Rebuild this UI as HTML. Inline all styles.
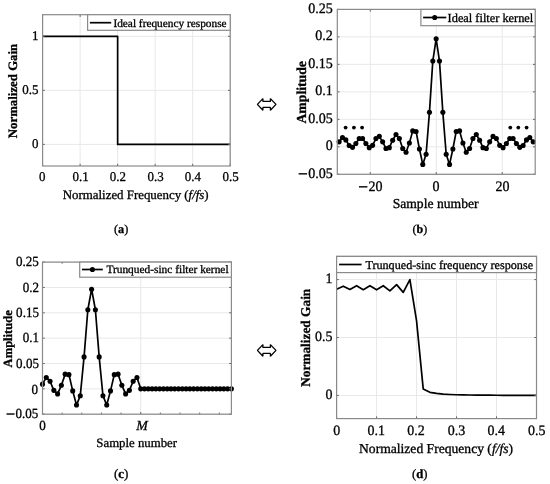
<!DOCTYPE html>
<html><head><meta charset="utf-8"><title>Filter kernel figure</title>
<style>
html,body{margin:0;padding:0;background:#fff;overflow:hidden;}
svg{display:block;filter:blur(0.3px);}
text{font-family:'Liberation Serif', 'Times New Roman', serif;fill:#000;text-rendering:geometricPrecision;}
</style></head>
<body>
<svg width="550" height="484" viewBox="0 0 550 484">
<rect width="550" height="484" fill="#fff"/>
<line x1="42.60" y1="14.70" x2="42.60" y2="166.00" stroke="#e8e8e8" stroke-width="1"/>
<line x1="80.12" y1="14.70" x2="80.12" y2="166.00" stroke="#e8e8e8" stroke-width="1"/>
<line x1="117.64" y1="14.70" x2="117.64" y2="166.00" stroke="#e8e8e8" stroke-width="1"/>
<line x1="155.16" y1="14.70" x2="155.16" y2="166.00" stroke="#e8e8e8" stroke-width="1"/>
<line x1="192.68" y1="14.70" x2="192.68" y2="166.00" stroke="#e8e8e8" stroke-width="1"/>
<line x1="230.20" y1="14.70" x2="230.20" y2="166.00" stroke="#e8e8e8" stroke-width="1"/>
<line x1="42.60" y1="144.39" x2="230.20" y2="144.39" stroke="#e8e8e8" stroke-width="1"/>
<line x1="42.60" y1="90.35" x2="230.20" y2="90.35" stroke="#e8e8e8" stroke-width="1"/>
<line x1="42.60" y1="36.31" x2="230.20" y2="36.31" stroke="#e8e8e8" stroke-width="1"/>
<polyline points="42.60,36.31 117.64,36.31 117.64,144.39 230.20,144.39" fill="none" stroke="#000" stroke-width="1.7" stroke-linejoin="round"/>
<line x1="42.60" y1="166.00" x2="42.60" y2="163.80" stroke="#606060" stroke-width="1"/>
<line x1="42.60" y1="14.70" x2="42.60" y2="16.90" stroke="#606060" stroke-width="1"/>
<line x1="80.12" y1="166.00" x2="80.12" y2="163.80" stroke="#606060" stroke-width="1"/>
<line x1="80.12" y1="14.70" x2="80.12" y2="16.90" stroke="#606060" stroke-width="1"/>
<line x1="117.64" y1="166.00" x2="117.64" y2="163.80" stroke="#606060" stroke-width="1"/>
<line x1="117.64" y1="14.70" x2="117.64" y2="16.90" stroke="#606060" stroke-width="1"/>
<line x1="155.16" y1="166.00" x2="155.16" y2="163.80" stroke="#606060" stroke-width="1"/>
<line x1="155.16" y1="14.70" x2="155.16" y2="16.90" stroke="#606060" stroke-width="1"/>
<line x1="192.68" y1="166.00" x2="192.68" y2="163.80" stroke="#606060" stroke-width="1"/>
<line x1="192.68" y1="14.70" x2="192.68" y2="16.90" stroke="#606060" stroke-width="1"/>
<line x1="230.20" y1="166.00" x2="230.20" y2="163.80" stroke="#606060" stroke-width="1"/>
<line x1="230.20" y1="14.70" x2="230.20" y2="16.90" stroke="#606060" stroke-width="1"/>
<line x1="42.60" y1="144.39" x2="44.80" y2="144.39" stroke="#606060" stroke-width="1"/>
<line x1="230.20" y1="144.39" x2="228.00" y2="144.39" stroke="#606060" stroke-width="1"/>
<line x1="42.60" y1="90.35" x2="44.80" y2="90.35" stroke="#606060" stroke-width="1"/>
<line x1="230.20" y1="90.35" x2="228.00" y2="90.35" stroke="#606060" stroke-width="1"/>
<line x1="42.60" y1="36.31" x2="44.80" y2="36.31" stroke="#606060" stroke-width="1"/>
<line x1="230.20" y1="36.31" x2="228.00" y2="36.31" stroke="#606060" stroke-width="1"/>
<rect x="42.60" y="14.70" width="187.60" height="151.30" fill="none" stroke="#8a8a8a" stroke-width="1.2"/>
<rect x="87.60" y="14.70" width="142.60" height="15.60" fill="#fff" stroke="#8a8a8a" stroke-width="1.2"/>
<line x1="89.90" y1="22.70" x2="111.20" y2="22.70" stroke="#000" stroke-width="1.7"/>
<text id="a_leg" transform="translate(113.40 26.50)" font-size="11.337" text-anchor="start" font-weight="normal" stroke="#000" stroke-width="0.3">Ideal frequency response</text>
<text id="a_xt0" transform="translate(42.30 181.30) scale(0.9670 1)" font-size="13.400" text-anchor="middle" font-weight="normal" stroke="#000" stroke-width="0.3">0</text>
<text id="a_xt1" transform="translate(80.56 180.80) scale(0.9670 1)" font-size="13.400" text-anchor="middle" font-weight="normal" stroke="#000" stroke-width="0.3">0.1</text>
<text id="a_xt2" transform="translate(117.82 180.80) scale(0.9670 1)" font-size="13.400" text-anchor="middle" font-weight="normal" stroke="#000" stroke-width="0.3">0.2</text>
<text id="a_xt3" transform="translate(155.58 180.80) scale(0.9670 1)" font-size="13.400" text-anchor="middle" font-weight="normal" stroke="#000" stroke-width="0.3">0.3</text>
<text id="a_xt4" transform="translate(192.84 181.30) scale(0.9670 1)" font-size="13.400" text-anchor="middle" font-weight="normal" stroke="#000" stroke-width="0.3">0.4</text>
<text id="a_xt5" transform="translate(230.60 180.80) scale(0.9670 1)" font-size="13.400" text-anchor="middle" font-weight="normal" stroke="#000" stroke-width="0.3">0.5</text>
<text id="a_yt0" transform="translate(38.40 148.46) scale(0.9670 1)" font-size="13.400" text-anchor="end" font-weight="normal" stroke="#000" stroke-width="0.3">0</text>
<text id="a_yt1" transform="translate(38.40 93.95) scale(0.9670 1)" font-size="13.400" text-anchor="end" font-weight="normal" stroke="#000" stroke-width="0.3">0.5</text>
<text id="a_yt2" transform="translate(38.40 40.44) scale(0.9670 1)" font-size="13.400" text-anchor="end" font-weight="normal" stroke="#000" stroke-width="0.3">1</text>
<text id="a_ylab" transform="translate(17.00 91.00) rotate(-90)" font-size="12.841" text-anchor="middle" font-weight="bold" stroke="#000" stroke-width="0.3">Normalized Gain</text>
<text id="a_xlab" transform="translate(135.70 198.60)" font-size="12.896" text-anchor="middle" font-weight="normal" stroke="#000" stroke-width="0.3">Normalized Frequency (<tspan font-style="italic">f/fs</tspan>)</text>
<text id="a_cap" transform="translate(121.15 232.90)" font-size="12.227" text-anchor="middle" font-weight="normal" stroke="#000" stroke-width="0.3">(<tspan font-weight="bold">a</tspan>)</text>
<line x1="370.28" y1="9.40" x2="370.28" y2="174.30" stroke="#e8e8e8" stroke-width="1"/>
<line x1="436.25" y1="9.40" x2="436.25" y2="174.30" stroke="#e8e8e8" stroke-width="1"/>
<line x1="502.22" y1="9.40" x2="502.22" y2="174.30" stroke="#e8e8e8" stroke-width="1"/>
<line x1="337.30" y1="174.30" x2="535.20" y2="174.30" stroke="#e8e8e8" stroke-width="1"/>
<line x1="337.30" y1="146.82" x2="535.20" y2="146.82" stroke="#e8e8e8" stroke-width="1"/>
<line x1="337.30" y1="119.33" x2="535.20" y2="119.33" stroke="#e8e8e8" stroke-width="1"/>
<line x1="337.30" y1="91.85" x2="535.20" y2="91.85" stroke="#e8e8e8" stroke-width="1"/>
<line x1="337.30" y1="64.37" x2="535.20" y2="64.37" stroke="#e8e8e8" stroke-width="1"/>
<line x1="337.30" y1="36.88" x2="535.20" y2="36.88" stroke="#e8e8e8" stroke-width="1"/>
<line x1="337.30" y1="9.40" x2="535.20" y2="9.40" stroke="#e8e8e8" stroke-width="1"/>
<polyline points="339.14,141.87 342.49,137.47 345.83,139.89 349.18,145.50 352.52,147.37 355.87,143.52 359.21,138.57 362.56,138.57 365.90,143.52 369.25,147.64 372.59,145.33 375.94,138.57 379.28,136.37 382.63,141.87 385.97,148.47 389.32,147.64 392.66,140.22 396.01,134.45 399.35,138.57 402.70,148.47 406.04,152.31 409.39,142.97 412.73,130.88 416.08,131.43 419.42,149.02 422.77,164.41 426.11,154.24 429.46,112.19 432.80,61.07 436.15,38.81 439.50,61.07 442.84,112.19 446.19,154.24 449.53,164.41 452.88,149.02 456.22,131.43 459.56,130.88 462.91,142.97 466.25,152.31 469.60,148.47 472.94,138.57 476.29,134.45 479.63,140.22 482.98,147.64 486.32,148.47 489.67,141.87 493.01,136.37 496.36,138.57 499.70,145.33 503.05,147.64 506.39,143.52 509.74,138.57 513.09,138.57 516.43,143.52 519.77,147.37 523.12,145.50 526.47,139.89 529.81,137.47 533.15,141.87" fill="none" stroke="#000" stroke-width="1.7" stroke-linejoin="round"/>
<circle cx="339.14" cy="141.87" r="2.55"/>
<circle cx="342.49" cy="137.47" r="2.55"/>
<circle cx="345.83" cy="139.89" r="2.55"/>
<circle cx="349.18" cy="145.50" r="2.55"/>
<circle cx="352.52" cy="147.37" r="2.55"/>
<circle cx="355.87" cy="143.52" r="2.55"/>
<circle cx="359.21" cy="138.57" r="2.55"/>
<circle cx="362.56" cy="138.57" r="2.55"/>
<circle cx="365.90" cy="143.52" r="2.55"/>
<circle cx="369.25" cy="147.64" r="2.55"/>
<circle cx="372.59" cy="145.33" r="2.55"/>
<circle cx="375.94" cy="138.57" r="2.55"/>
<circle cx="379.28" cy="136.37" r="2.55"/>
<circle cx="382.63" cy="141.87" r="2.55"/>
<circle cx="385.97" cy="148.47" r="2.55"/>
<circle cx="389.32" cy="147.64" r="2.55"/>
<circle cx="392.66" cy="140.22" r="2.55"/>
<circle cx="396.01" cy="134.45" r="2.55"/>
<circle cx="399.35" cy="138.57" r="2.55"/>
<circle cx="402.70" cy="148.47" r="2.55"/>
<circle cx="406.04" cy="152.31" r="2.55"/>
<circle cx="409.39" cy="142.97" r="2.55"/>
<circle cx="412.73" cy="130.88" r="2.55"/>
<circle cx="416.08" cy="131.43" r="2.55"/>
<circle cx="419.42" cy="149.02" r="2.55"/>
<circle cx="422.77" cy="164.41" r="2.55"/>
<circle cx="426.11" cy="154.24" r="2.55"/>
<circle cx="429.46" cy="112.19" r="2.55"/>
<circle cx="432.80" cy="61.07" r="2.55"/>
<circle cx="436.15" cy="38.81" r="2.55"/>
<circle cx="439.50" cy="61.07" r="2.55"/>
<circle cx="442.84" cy="112.19" r="2.55"/>
<circle cx="446.19" cy="154.24" r="2.55"/>
<circle cx="449.53" cy="164.41" r="2.55"/>
<circle cx="452.88" cy="149.02" r="2.55"/>
<circle cx="456.22" cy="131.43" r="2.55"/>
<circle cx="459.56" cy="130.88" r="2.55"/>
<circle cx="462.91" cy="142.97" r="2.55"/>
<circle cx="466.25" cy="152.31" r="2.55"/>
<circle cx="469.60" cy="148.47" r="2.55"/>
<circle cx="472.94" cy="138.57" r="2.55"/>
<circle cx="476.29" cy="134.45" r="2.55"/>
<circle cx="479.63" cy="140.22" r="2.55"/>
<circle cx="482.98" cy="147.64" r="2.55"/>
<circle cx="486.32" cy="148.47" r="2.55"/>
<circle cx="489.67" cy="141.87" r="2.55"/>
<circle cx="493.01" cy="136.37" r="2.55"/>
<circle cx="496.36" cy="138.57" r="2.55"/>
<circle cx="499.70" cy="145.33" r="2.55"/>
<circle cx="503.05" cy="147.64" r="2.55"/>
<circle cx="506.39" cy="143.52" r="2.55"/>
<circle cx="509.74" cy="138.57" r="2.55"/>
<circle cx="513.09" cy="138.57" r="2.55"/>
<circle cx="516.43" cy="143.52" r="2.55"/>
<circle cx="519.77" cy="147.37" r="2.55"/>
<circle cx="523.12" cy="145.50" r="2.55"/>
<circle cx="526.47" cy="139.89" r="2.55"/>
<circle cx="529.81" cy="137.47" r="2.55"/>
<circle cx="533.15" cy="141.87" r="2.55"/>
<circle cx="345.6" cy="127.6" r="1.9"/>
<circle cx="353.9" cy="127.6" r="1.9"/>
<circle cx="362.1" cy="127.6" r="1.9"/>
<circle cx="510.3" cy="127.6" r="1.9"/>
<circle cx="518.3" cy="127.6" r="1.9"/>
<circle cx="526.6" cy="127.6" r="1.9"/>
<line x1="370.28" y1="174.30" x2="370.28" y2="172.10" stroke="#606060" stroke-width="1"/>
<line x1="370.28" y1="9.40" x2="370.28" y2="11.60" stroke="#606060" stroke-width="1"/>
<line x1="436.25" y1="174.30" x2="436.25" y2="172.10" stroke="#606060" stroke-width="1"/>
<line x1="436.25" y1="9.40" x2="436.25" y2="11.60" stroke="#606060" stroke-width="1"/>
<line x1="502.22" y1="174.30" x2="502.22" y2="172.10" stroke="#606060" stroke-width="1"/>
<line x1="502.22" y1="9.40" x2="502.22" y2="11.60" stroke="#606060" stroke-width="1"/>
<line x1="337.30" y1="174.30" x2="339.50" y2="174.30" stroke="#606060" stroke-width="1"/>
<line x1="535.20" y1="174.30" x2="533.00" y2="174.30" stroke="#606060" stroke-width="1"/>
<line x1="337.30" y1="146.82" x2="339.50" y2="146.82" stroke="#606060" stroke-width="1"/>
<line x1="535.20" y1="146.82" x2="533.00" y2="146.82" stroke="#606060" stroke-width="1"/>
<line x1="337.30" y1="119.33" x2="339.50" y2="119.33" stroke="#606060" stroke-width="1"/>
<line x1="535.20" y1="119.33" x2="533.00" y2="119.33" stroke="#606060" stroke-width="1"/>
<line x1="337.30" y1="91.85" x2="339.50" y2="91.85" stroke="#606060" stroke-width="1"/>
<line x1="535.20" y1="91.85" x2="533.00" y2="91.85" stroke="#606060" stroke-width="1"/>
<line x1="337.30" y1="64.37" x2="339.50" y2="64.37" stroke="#606060" stroke-width="1"/>
<line x1="535.20" y1="64.37" x2="533.00" y2="64.37" stroke="#606060" stroke-width="1"/>
<line x1="337.30" y1="36.88" x2="339.50" y2="36.88" stroke="#606060" stroke-width="1"/>
<line x1="535.20" y1="36.88" x2="533.00" y2="36.88" stroke="#606060" stroke-width="1"/>
<line x1="337.30" y1="9.40" x2="339.50" y2="9.40" stroke="#606060" stroke-width="1"/>
<line x1="535.20" y1="9.40" x2="533.00" y2="9.40" stroke="#606060" stroke-width="1"/>
<rect x="337.30" y="9.40" width="197.90" height="164.90" fill="none" stroke="#8a8a8a" stroke-width="1.2"/>
<rect x="420.90" y="9.40" width="114.30" height="16.30" fill="#fff" stroke="#8a8a8a" stroke-width="1.2"/>
<line x1="423.10" y1="17.50" x2="446.30" y2="17.50" stroke="#000" stroke-width="1.7"/>
<circle cx="434.70" cy="17.50" r="2.55"/>
<text id="b_leg" transform="translate(447.60 21.90)" font-size="12.352" text-anchor="start" font-weight="normal" stroke="#000" stroke-width="0.3">Ideal filter kernel</text>
<text id="b_xt0" transform="translate(370.15 191.00) scale(0.9670 1)" font-size="14.500" text-anchor="middle" font-weight="normal" stroke="#000" stroke-width="0.3"><tspan font-family="'DejaVu Sans', sans-serif" font-size="0.92em">−</tspan>20</text>
<text id="b_xt1" transform="translate(436.05 191.00) scale(0.9670 1)" font-size="14.500" text-anchor="middle" font-weight="normal" stroke="#000" stroke-width="0.3">0</text>
<text id="b_xt2" transform="translate(502.40 191.00) scale(0.9670 1)" font-size="14.500" text-anchor="middle" font-weight="normal" stroke="#000" stroke-width="0.3">20</text>
<text id="b_yt0" transform="translate(332.80 177.75) scale(0.9670 1)" font-size="14.500" text-anchor="end" font-weight="normal" stroke="#000" stroke-width="0.3"><tspan font-family="'DejaVu Sans', sans-serif" font-size="0.92em">−</tspan>0.05</text>
<text id="b_yt1" transform="translate(332.80 149.95) scale(0.9670 1)" font-size="14.500" text-anchor="end" font-weight="normal" stroke="#000" stroke-width="0.3">0</text>
<text id="b_yt2" transform="translate(332.80 123.10) scale(0.9670 1)" font-size="14.500" text-anchor="end" font-weight="normal" stroke="#000" stroke-width="0.3">0.05</text>
<text id="b_yt3" transform="translate(332.80 95.30) scale(0.9670 1)" font-size="14.500" text-anchor="end" font-weight="normal" stroke="#000" stroke-width="0.3">0.1</text>
<text id="b_yt4" transform="translate(332.80 68.05) scale(0.9670 1)" font-size="14.500" text-anchor="end" font-weight="normal" stroke="#000" stroke-width="0.3">0.15</text>
<text id="b_yt5" transform="translate(332.80 39.75) scale(0.9670 1)" font-size="14.500" text-anchor="end" font-weight="normal" stroke="#000" stroke-width="0.3">0.2</text>
<text id="b_yt6" transform="translate(332.80 13.10) scale(0.9670 1)" font-size="14.500" text-anchor="end" font-weight="normal" stroke="#000" stroke-width="0.3">0.25</text>
<text id="b_ylab" transform="translate(305.60 92.30) rotate(-90)" font-size="13.730" text-anchor="middle" font-weight="bold" stroke="#000" stroke-width="0.3">Amplitude</text>
<text id="b_xlab" transform="translate(435.60 207.50)" font-size="13.632" text-anchor="middle" font-weight="normal" stroke="#000" stroke-width="0.3">Sample number</text>
<text id="b_cap" transform="translate(419.90 232.95)" font-size="12.028" text-anchor="middle" font-weight="normal" stroke="#000" stroke-width="0.3">(<tspan font-weight="bold">b</tspan>)</text>
<line x1="42.50" y1="262.10" x2="42.50" y2="414.20" stroke="#e8e8e8" stroke-width="1"/>
<line x1="140.73" y1="262.10" x2="140.73" y2="414.20" stroke="#e8e8e8" stroke-width="1"/>
<line x1="42.50" y1="414.20" x2="231.40" y2="414.20" stroke="#e8e8e8" stroke-width="1"/>
<line x1="42.50" y1="388.85" x2="231.40" y2="388.85" stroke="#e8e8e8" stroke-width="1"/>
<line x1="42.50" y1="363.50" x2="231.40" y2="363.50" stroke="#e8e8e8" stroke-width="1"/>
<line x1="42.50" y1="338.15" x2="231.40" y2="338.15" stroke="#e8e8e8" stroke-width="1"/>
<line x1="42.50" y1="312.80" x2="231.40" y2="312.80" stroke="#e8e8e8" stroke-width="1"/>
<line x1="42.50" y1="287.45" x2="231.40" y2="287.45" stroke="#e8e8e8" stroke-width="1"/>
<line x1="42.50" y1="262.10" x2="231.40" y2="262.10" stroke="#e8e8e8" stroke-width="1"/>
<polyline points="42.50,384.13 46.28,377.44 50.06,381.25 53.83,390.37 57.61,393.92 61.39,385.30 65.17,374.15 68.95,374.65 72.72,390.88 76.50,405.07 80.28,395.69 84.06,356.91 87.84,309.76 91.61,289.22 95.39,309.76 99.17,356.91 102.95,395.69 106.73,405.07 110.50,390.88 114.28,374.65 118.06,374.15 121.84,385.30 125.62,393.92 129.39,390.37 133.17,381.25 136.95,377.44 140.73,388.85 144.51,388.85 148.28,388.85 152.06,388.85 155.84,388.85 159.62,388.85 163.40,388.85 167.17,388.85 170.95,388.85 174.73,388.85 178.51,388.85 182.29,388.85 186.06,388.85 189.84,388.85 193.62,388.85 197.40,388.85 201.18,388.85 204.95,388.85 208.73,388.85 212.51,388.85 216.29,388.85 220.07,388.85 223.84,388.85 227.62,388.85 231.40,388.85" fill="none" stroke="#000" stroke-width="1.7" stroke-linejoin="round"/>
<circle cx="42.50" cy="384.13" r="2.55"/>
<circle cx="46.28" cy="377.44" r="2.55"/>
<circle cx="50.06" cy="381.25" r="2.55"/>
<circle cx="53.83" cy="390.37" r="2.55"/>
<circle cx="57.61" cy="393.92" r="2.55"/>
<circle cx="61.39" cy="385.30" r="2.55"/>
<circle cx="65.17" cy="374.15" r="2.55"/>
<circle cx="68.95" cy="374.65" r="2.55"/>
<circle cx="72.72" cy="390.88" r="2.55"/>
<circle cx="76.50" cy="405.07" r="2.55"/>
<circle cx="80.28" cy="395.69" r="2.55"/>
<circle cx="84.06" cy="356.91" r="2.55"/>
<circle cx="87.84" cy="309.76" r="2.55"/>
<circle cx="91.61" cy="289.22" r="2.55"/>
<circle cx="95.39" cy="309.76" r="2.55"/>
<circle cx="99.17" cy="356.91" r="2.55"/>
<circle cx="102.95" cy="395.69" r="2.55"/>
<circle cx="106.73" cy="405.07" r="2.55"/>
<circle cx="110.50" cy="390.88" r="2.55"/>
<circle cx="114.28" cy="374.65" r="2.55"/>
<circle cx="118.06" cy="374.15" r="2.55"/>
<circle cx="121.84" cy="385.30" r="2.55"/>
<circle cx="125.62" cy="393.92" r="2.55"/>
<circle cx="129.39" cy="390.37" r="2.55"/>
<circle cx="133.17" cy="381.25" r="2.55"/>
<circle cx="136.95" cy="377.44" r="2.55"/>
<circle cx="140.73" cy="388.85" r="2.55"/>
<circle cx="144.51" cy="388.85" r="2.55"/>
<circle cx="148.28" cy="388.85" r="2.55"/>
<circle cx="152.06" cy="388.85" r="2.55"/>
<circle cx="155.84" cy="388.85" r="2.55"/>
<circle cx="159.62" cy="388.85" r="2.55"/>
<circle cx="163.40" cy="388.85" r="2.55"/>
<circle cx="167.17" cy="388.85" r="2.55"/>
<circle cx="170.95" cy="388.85" r="2.55"/>
<circle cx="174.73" cy="388.85" r="2.55"/>
<circle cx="178.51" cy="388.85" r="2.55"/>
<circle cx="182.29" cy="388.85" r="2.55"/>
<circle cx="186.06" cy="388.85" r="2.55"/>
<circle cx="189.84" cy="388.85" r="2.55"/>
<circle cx="193.62" cy="388.85" r="2.55"/>
<circle cx="197.40" cy="388.85" r="2.55"/>
<circle cx="201.18" cy="388.85" r="2.55"/>
<circle cx="204.95" cy="388.85" r="2.55"/>
<circle cx="208.73" cy="388.85" r="2.55"/>
<circle cx="212.51" cy="388.85" r="2.55"/>
<circle cx="216.29" cy="388.85" r="2.55"/>
<circle cx="220.07" cy="388.85" r="2.55"/>
<circle cx="223.84" cy="388.85" r="2.55"/>
<circle cx="227.62" cy="388.85" r="2.55"/>
<circle cx="231.40" cy="388.85" r="2.55"/>
<line x1="42.50" y1="414.20" x2="42.50" y2="412.00" stroke="#606060" stroke-width="1"/>
<line x1="42.50" y1="262.10" x2="42.50" y2="264.30" stroke="#606060" stroke-width="1"/>
<line x1="140.73" y1="414.20" x2="140.73" y2="412.00" stroke="#606060" stroke-width="1"/>
<line x1="140.73" y1="262.10" x2="140.73" y2="264.30" stroke="#606060" stroke-width="1"/>
<line x1="62.15" y1="414.20" x2="62.15" y2="412.60" stroke="#606060" stroke-width="1"/>
<line x1="62.15" y1="262.10" x2="62.15" y2="263.70" stroke="#606060" stroke-width="1"/>
<line x1="81.79" y1="414.20" x2="81.79" y2="412.60" stroke="#606060" stroke-width="1"/>
<line x1="81.79" y1="262.10" x2="81.79" y2="263.70" stroke="#606060" stroke-width="1"/>
<line x1="101.44" y1="414.20" x2="101.44" y2="412.60" stroke="#606060" stroke-width="1"/>
<line x1="101.44" y1="262.10" x2="101.44" y2="263.70" stroke="#606060" stroke-width="1"/>
<line x1="121.08" y1="414.20" x2="121.08" y2="412.60" stroke="#606060" stroke-width="1"/>
<line x1="121.08" y1="262.10" x2="121.08" y2="263.70" stroke="#606060" stroke-width="1"/>
<line x1="160.37" y1="414.20" x2="160.37" y2="412.60" stroke="#606060" stroke-width="1"/>
<line x1="160.37" y1="262.10" x2="160.37" y2="263.70" stroke="#606060" stroke-width="1"/>
<line x1="180.02" y1="414.20" x2="180.02" y2="412.60" stroke="#606060" stroke-width="1"/>
<line x1="180.02" y1="262.10" x2="180.02" y2="263.70" stroke="#606060" stroke-width="1"/>
<line x1="199.66" y1="414.20" x2="199.66" y2="412.60" stroke="#606060" stroke-width="1"/>
<line x1="199.66" y1="262.10" x2="199.66" y2="263.70" stroke="#606060" stroke-width="1"/>
<line x1="219.31" y1="414.20" x2="219.31" y2="412.60" stroke="#606060" stroke-width="1"/>
<line x1="219.31" y1="262.10" x2="219.31" y2="263.70" stroke="#606060" stroke-width="1"/>
<line x1="42.50" y1="414.20" x2="44.70" y2="414.20" stroke="#606060" stroke-width="1"/>
<line x1="231.40" y1="414.20" x2="229.20" y2="414.20" stroke="#606060" stroke-width="1"/>
<line x1="42.50" y1="388.85" x2="44.70" y2="388.85" stroke="#606060" stroke-width="1"/>
<line x1="231.40" y1="388.85" x2="229.20" y2="388.85" stroke="#606060" stroke-width="1"/>
<line x1="42.50" y1="363.50" x2="44.70" y2="363.50" stroke="#606060" stroke-width="1"/>
<line x1="231.40" y1="363.50" x2="229.20" y2="363.50" stroke="#606060" stroke-width="1"/>
<line x1="42.50" y1="338.15" x2="44.70" y2="338.15" stroke="#606060" stroke-width="1"/>
<line x1="231.40" y1="338.15" x2="229.20" y2="338.15" stroke="#606060" stroke-width="1"/>
<line x1="42.50" y1="312.80" x2="44.70" y2="312.80" stroke="#606060" stroke-width="1"/>
<line x1="231.40" y1="312.80" x2="229.20" y2="312.80" stroke="#606060" stroke-width="1"/>
<line x1="42.50" y1="287.45" x2="44.70" y2="287.45" stroke="#606060" stroke-width="1"/>
<line x1="231.40" y1="287.45" x2="229.20" y2="287.45" stroke="#606060" stroke-width="1"/>
<line x1="42.50" y1="262.10" x2="44.70" y2="262.10" stroke="#606060" stroke-width="1"/>
<line x1="231.40" y1="262.10" x2="229.20" y2="262.10" stroke="#606060" stroke-width="1"/>
<rect x="42.50" y="262.10" width="188.90" height="152.10" fill="none" stroke="#8a8a8a" stroke-width="1.2"/>
<rect x="79.70" y="262.10" width="151.70" height="15.10" fill="#fff" stroke="#8a8a8a" stroke-width="1.2"/>
<line x1="82.00" y1="269.50" x2="102.80" y2="269.50" stroke="#000" stroke-width="1.7"/>
<circle cx="92.40" cy="269.50" r="2.55"/>
<text id="c_leg" transform="translate(106.40 273.20)" font-size="11.390" text-anchor="start" font-weight="normal" stroke="#000" stroke-width="0.3">Trunqued-sinc filter kernel</text>
<text id="c_xt0" transform="translate(42.60 430.00) scale(0.9300 1)" font-size="14.000" text-anchor="middle" font-weight="normal" stroke="#000" stroke-width="0.3">0</text>
<text id="c_xt1" transform="translate(142.00 429.50)" font-size="13.887" text-anchor="middle" font-weight="normal" font-style="italic" stroke="#000" stroke-width="0.3">M</text>
<text id="c_yt0" transform="translate(38.30 418.00) scale(0.9300 1)" font-size="14.000" text-anchor="end" font-weight="normal" stroke="#000" stroke-width="0.3"><tspan font-family="'DejaVu Sans', sans-serif" font-size="0.92em">−</tspan>0.05</text>
<text id="c_yt1" transform="translate(38.10 393.60) scale(0.9300 1)" font-size="14.000" text-anchor="end" font-weight="normal" stroke="#000" stroke-width="0.3">0</text>
<text id="c_yt2" transform="translate(38.90 367.80) scale(0.9300 1)" font-size="14.000" text-anchor="end" font-weight="normal" stroke="#000" stroke-width="0.3">0.05</text>
<text id="c_yt3" transform="translate(38.90 342.25) scale(0.9300 1)" font-size="14.000" text-anchor="end" font-weight="normal" stroke="#000" stroke-width="0.3">0.1</text>
<text id="c_yt4" transform="translate(38.90 316.70) scale(0.9300 1)" font-size="14.000" text-anchor="end" font-weight="normal" stroke="#000" stroke-width="0.3">0.15</text>
<text id="c_yt5" transform="translate(38.90 292.15) scale(0.9300 1)" font-size="14.000" text-anchor="end" font-weight="normal" stroke="#000" stroke-width="0.3">0.2</text>
<text id="c_yt6" transform="translate(38.70 266.35) scale(0.9300 1)" font-size="14.000" text-anchor="end" font-weight="normal" stroke="#000" stroke-width="0.3">0.25</text>
<text id="c_ylab" transform="translate(11.60 338.80) rotate(-90)" font-size="12.561" text-anchor="middle" font-weight="bold" stroke="#000" stroke-width="0.3">Amplitude</text>
<text id="c_xlab" transform="translate(136.70 446.80)" font-size="12.804" text-anchor="middle" font-weight="normal" stroke="#000" stroke-width="0.3">Sample number</text>
<text id="c_cap" transform="translate(121.10 478.00)" font-size="12.991" text-anchor="middle" font-weight="normal" stroke="#000" stroke-width="0.3">(<tspan font-weight="bold">c</tspan>)</text>
<line x1="336.60" y1="256.40" x2="336.60" y2="418.60" stroke="#e8e8e8" stroke-width="1"/>
<line x1="376.58" y1="256.40" x2="376.58" y2="418.60" stroke="#e8e8e8" stroke-width="1"/>
<line x1="416.56" y1="256.40" x2="416.56" y2="418.60" stroke="#e8e8e8" stroke-width="1"/>
<line x1="456.54" y1="256.40" x2="456.54" y2="418.60" stroke="#e8e8e8" stroke-width="1"/>
<line x1="496.52" y1="256.40" x2="496.52" y2="418.60" stroke="#e8e8e8" stroke-width="1"/>
<line x1="536.50" y1="256.40" x2="536.50" y2="418.60" stroke="#e8e8e8" stroke-width="1"/>
<line x1="336.60" y1="395.43" x2="536.50" y2="395.43" stroke="#e8e8e8" stroke-width="1"/>
<line x1="336.60" y1="337.50" x2="536.50" y2="337.50" stroke="#e8e8e8" stroke-width="1"/>
<line x1="336.60" y1="279.57" x2="536.50" y2="279.57" stroke="#e8e8e8" stroke-width="1"/>
<polyline points="336.60,289.19 343.26,286.18 349.93,289.42 356.59,285.71 363.25,289.65 369.92,285.71 376.58,289.77 383.24,285.71 389.91,290.93 396.57,284.67 403.23,292.32 409.90,279.57 416.56,320.82 423.22,388.94 429.89,392.30 436.55,393.46 443.21,394.15 449.88,394.50 456.54,394.73 463.20,394.91 469.87,395.02 476.53,395.08 483.19,395.14 489.86,395.20 496.52,395.25 503.18,395.31 509.85,395.35 516.51,395.37 523.17,395.39 529.84,395.41 536.50,395.42" fill="none" stroke="#000" stroke-width="1.7" stroke-linejoin="round"/>
<line x1="336.60" y1="418.60" x2="336.60" y2="416.40" stroke="#606060" stroke-width="1"/>
<line x1="336.60" y1="256.40" x2="336.60" y2="258.60" stroke="#606060" stroke-width="1"/>
<line x1="376.58" y1="418.60" x2="376.58" y2="416.40" stroke="#606060" stroke-width="1"/>
<line x1="376.58" y1="256.40" x2="376.58" y2="258.60" stroke="#606060" stroke-width="1"/>
<line x1="416.56" y1="418.60" x2="416.56" y2="416.40" stroke="#606060" stroke-width="1"/>
<line x1="416.56" y1="256.40" x2="416.56" y2="258.60" stroke="#606060" stroke-width="1"/>
<line x1="456.54" y1="418.60" x2="456.54" y2="416.40" stroke="#606060" stroke-width="1"/>
<line x1="456.54" y1="256.40" x2="456.54" y2="258.60" stroke="#606060" stroke-width="1"/>
<line x1="496.52" y1="418.60" x2="496.52" y2="416.40" stroke="#606060" stroke-width="1"/>
<line x1="496.52" y1="256.40" x2="496.52" y2="258.60" stroke="#606060" stroke-width="1"/>
<line x1="536.50" y1="418.60" x2="536.50" y2="416.40" stroke="#606060" stroke-width="1"/>
<line x1="536.50" y1="256.40" x2="536.50" y2="258.60" stroke="#606060" stroke-width="1"/>
<line x1="336.60" y1="395.43" x2="338.80" y2="395.43" stroke="#606060" stroke-width="1"/>
<line x1="536.50" y1="395.43" x2="534.30" y2="395.43" stroke="#606060" stroke-width="1"/>
<line x1="336.60" y1="337.50" x2="338.80" y2="337.50" stroke="#606060" stroke-width="1"/>
<line x1="536.50" y1="337.50" x2="534.30" y2="337.50" stroke="#606060" stroke-width="1"/>
<line x1="336.60" y1="279.57" x2="338.80" y2="279.57" stroke="#606060" stroke-width="1"/>
<line x1="536.50" y1="279.57" x2="534.30" y2="279.57" stroke="#606060" stroke-width="1"/>
<rect x="336.60" y="256.40" width="199.90" height="162.20" fill="none" stroke="#8a8a8a" stroke-width="1.2"/>
<rect x="336.60" y="256.40" width="199.90" height="16.20" fill="#fff" stroke="#8a8a8a" stroke-width="1.2"/>
<line x1="339.10" y1="264.50" x2="361.60" y2="264.50" stroke="#000" stroke-width="1.7"/>
<text id="d_leg" transform="translate(365.40 268.90)" font-size="12.169" text-anchor="start" font-weight="normal" stroke="#000" stroke-width="0.3">Trunqued-sinc frequency response</text>
<text id="d_xt0" transform="translate(336.75 434.85) scale(0.9700 1)" font-size="14.428" text-anchor="middle" font-weight="normal" stroke="#000" stroke-width="0.3">0</text>
<text id="d_xt1" transform="translate(376.20 434.85) scale(0.9700 1)" font-size="14.428" text-anchor="middle" font-weight="normal" stroke="#000" stroke-width="0.3">0.1</text>
<text id="d_xt2" transform="translate(416.10 434.85) scale(0.9700 1)" font-size="14.428" text-anchor="middle" font-weight="normal" stroke="#000" stroke-width="0.3">0.2</text>
<text id="d_xt3" transform="translate(456.52 434.85) scale(0.9700 1)" font-size="14.428" text-anchor="middle" font-weight="normal" stroke="#000" stroke-width="0.3">0.3</text>
<text id="d_xt4" transform="translate(496.26 434.85) scale(0.9700 1)" font-size="14.428" text-anchor="middle" font-weight="normal" stroke="#000" stroke-width="0.3">0.4</text>
<text id="d_xt5" transform="translate(536.65 434.85) scale(0.9700 1)" font-size="14.428" text-anchor="middle" font-weight="normal" stroke="#000" stroke-width="0.3">0.5</text>
<text id="d_yt0" transform="translate(332.60 398.77) scale(0.9700 1)" font-size="14.428" text-anchor="end" font-weight="normal" stroke="#000" stroke-width="0.3">0</text>
<text id="d_yt1" transform="translate(332.60 340.80) scale(0.9700 1)" font-size="14.428" text-anchor="end" font-weight="normal" stroke="#000" stroke-width="0.3">0.5</text>
<text id="d_yt2" transform="translate(332.60 283.43) scale(0.9700 1)" font-size="14.428" text-anchor="end" font-weight="normal" stroke="#000" stroke-width="0.3">1</text>
<text id="d_ylab" transform="translate(309.50 337.80) rotate(-90)" font-size="13.339" text-anchor="middle" font-weight="bold" stroke="#000" stroke-width="0.3">Normalized Gain</text>
<text id="d_xlab" transform="translate(436.05 453.20)" font-size="13.609" text-anchor="middle" font-weight="normal" stroke="#000" stroke-width="0.3">Normalized Frequency (<tspan font-style="italic">f/fs</tspan>)</text>
<text id="d_cap" transform="translate(419.80 478.25)" font-size="12.666" text-anchor="middle" font-weight="normal" stroke="#000" stroke-width="0.3">(<tspan font-weight="bold">d</tspan>)</text>
<polygon points="257.40,104.40 262.90,98.60 262.90,101.40 270.40,101.40 270.40,98.60 276.00,104.40 270.40,110.20 270.40,107.40 262.90,107.40 262.90,110.20" fill="none" stroke="#000" stroke-width="1.3" stroke-linejoin="bevel"/>
<polygon points="257.40,350.40 262.90,344.60 262.90,347.40 270.40,347.40 270.40,344.60 276.00,350.40 270.40,356.20 270.40,353.40 262.90,353.40 262.90,356.20" fill="none" stroke="#000" stroke-width="1.3" stroke-linejoin="bevel"/>
</svg>
</body></html>
